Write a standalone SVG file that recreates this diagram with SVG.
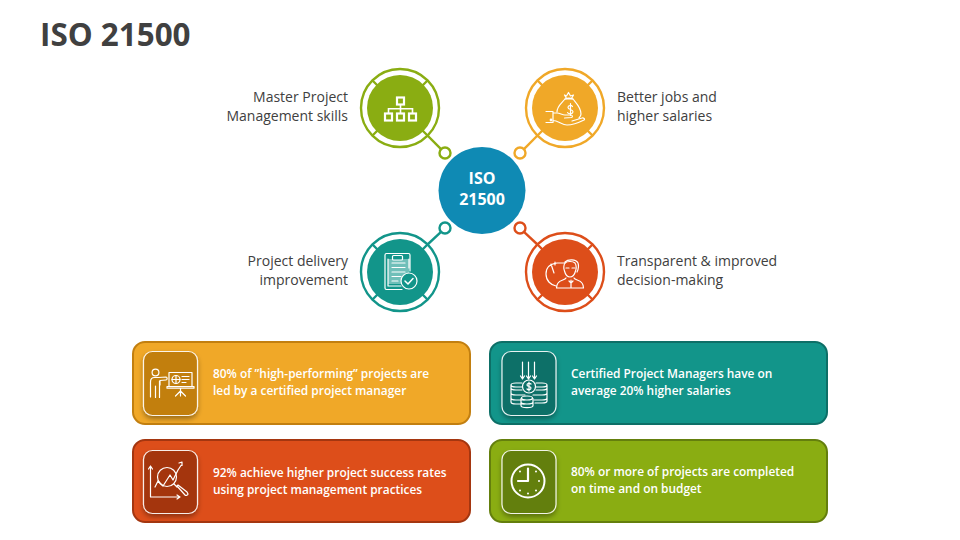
<svg xmlns="http://www.w3.org/2000/svg" width="960" height="540" viewBox="0 0 960 540">
<defs>
<style>
text{font-family:"Open Sans","Noto Sans","Liberation Sans",sans-serif}
.t{font-size:31.400px;font-weight:700;fill:#404040}
.l{font-size:14px;fill:#404040}
.c{font-size:16px;font-weight:700;fill:#fff}
.b{font-size:11.900px;font-weight:600;fill:#fff}
.i{fill:none;stroke:#fff;stroke-width:1.200;stroke-linecap:round;stroke-linejoin:round}
.i2{fill:none;stroke:#fff;stroke-width:2;stroke-linecap:round;stroke-linejoin:round}
.ib{stroke:#fff;stroke-opacity:.9;stroke-width:1.200;filter:url(#sh)}
</style>
<filter id="sh" x="-20%" y="-20%" width="140%" height="150%"><feDropShadow dx="0" dy="3" stdDeviation="2.500" flood-color="#000" flood-opacity=".35"/></filter>
</defs>
<rect width="960" height="540" fill="#fff"/>
<text class="t" x="40" y="46">ISO 21500</text>

<g id="connectors" fill="none" stroke-width="2.400">
<path d="M427 135L440.800 148.800" stroke="#8aad12"/>
<path d="M538 135L524.200 148.800" stroke="#f0a828"/>
<path d="M427 245L440.800 232.200" stroke="#12958a"/>
<path d="M538 245L524.200 232.200" stroke="#dd4e1a"/>
</g>

<g id="node-green">
<circle cx="400" cy="108" r="39" fill="#fff" stroke="#8aad12" stroke-width="2.400"/>
<path d="M372.500 80.500l9 9M427.500 80.500l-9 9M372.500 135.500l9-9M427.500 135.500l-9-9" stroke="#8aad12" stroke-width="2.400"/>
<circle cx="400" cy="108" r="33" fill="#8aad12"/>
<g fill="none" stroke="#fff" stroke-width="2.200">
<rect x="397" y="97.500" width="7" height="7"/>
<rect x="385" y="113.500" width="7" height="7"/>
<rect x="397" y="113.500" width="7" height="7"/>
<rect x="409" y="113.500" width="7" height="7"/>
<path d="M400.500 104.500V113M388.500 113V108.800H412.500V113" stroke-width="1.600"/>
</g>
<circle cx="445" cy="153" r="5.500" fill="#fff" stroke="#8aad12" stroke-width="2.400"/>
<text class="l" text-anchor="end" x="348" y="102">Master Project</text>
<text class="l" text-anchor="end" x="348" y="121">Management skills</text>
</g>

<g id="node-amber">
<circle cx="565" cy="108" r="39" fill="#fff" stroke="#f0a828" stroke-width="2.400"/>
<path d="M537.500 80.500l9 9M592.500 80.500l-9 9M537.500 135.500l9-9M592.500 135.500l-9-9" stroke="#f0a828" stroke-width="2.400"/>
<circle cx="565" cy="108" r="33" fill="#f0a828"/>
<g class="i" transform="translate(0 3)">
<path d="M546 108.500h7v11h-7M553 110h4c3 0 5 2 8 2h6c1.500 0 2 2 .5 2.500l-7 .5M553 117.500c5 0 9 4.500 14 4.500 5 0 13-3 17-5 1.500-1-.5-2.500-2-2l-10 3"/>
<path d="M557 109c0-6 5-9 8-13h8c3 4 8 8 8 15 0 2-1 3-2 4"/>
<path d="M565 96c2.500-1 5.500-1 8 0M564.500 92l2 3.500h5l2-3.500-3 1-2-3.500-2 3.500z"/>
<path d="M572.500 103.500c-1-1.500-4.500-1.500-4.500 1 0 2.500 5 1.500 5 4.200 0 2.500-4 2.500-5.500 1M570.500 100.500v12"/>
<circle cx="551" cy="117" r=".8"/>
</g>
<circle cx="520" cy="153" r="5.500" fill="#fff" stroke="#f0a828" stroke-width="2.400"/>
<text class="l" x="617" y="102">Better jobs and</text>
<text class="l" x="617" y="121">higher salaries</text>
</g>

<g id="node-teal">
<circle cx="400" cy="272" r="39" fill="#fff" stroke="#12958a" stroke-width="2.400"/>
<path d="M372.500 244.500l9 9M427.500 244.500l-9 9M372.500 299.500l9-9M427.500 299.500l-9-9" stroke="#12958a" stroke-width="2.400"/>
<circle cx="400" cy="272" r="33" fill="#12958a"/>
<rect x="388" y="259" width="21" height="25" fill="#fff" fill-opacity=".4"/>
<g class="i">
<path d="M402 289.500h-15.500a1.500 1.500 0 0 1-1.500-1.500v-33a1.500 1.500 0 0 1 1.500-1.500h22a1.500 1.500 0 0 1 1.500 1.500v16"/>
<rect x="392.500" y="255.500" width="10" height="4.500" rx="1" fill="#12958a"/>
<path d="M388 259v27h13M409 259v9M392 263h13M392 267.500h13M392 272h13M392 276.500h9M392 281h6"/>
<circle cx="409" cy="281" r="8" fill="#12958a"/>
<path d="M405 281l3 3 5-5.500" stroke-width="1.500"/>
</g>
<circle cx="445" cy="228" r="5.500" fill="#fff" stroke="#12958a" stroke-width="2.400"/>
<text class="l" text-anchor="end" x="348" y="266">Project delivery</text>
<text class="l" text-anchor="end" x="348" y="285">improvement</text>
</g>

<g id="node-orange">
<circle cx="565" cy="272" r="39" fill="#fff" stroke="#dd4e1a" stroke-width="2.400"/>
<path d="M537.500 244.500l9 9M592.500 244.500l-9 9M537.500 299.500l9-9M592.500 299.500l-9-9" stroke="#dd4e1a" stroke-width="2.400"/>
<circle cx="565" cy="272" r="33" fill="#dd4e1a"/>
<g class="i">
<path d="M557 263c-8 1-11 6-11 11 0 7 5 11 10 12M557 263h8M555 262v3M551 264l3 9"/>
<path d="M565 263c2-2 8-2 10 0 1.500 2 1.500 6 .500 8-1 4-3.500 6-5.500 6s-4.500-2-5.500-6c-1-2-1-6 .5-8z"/>
<path d="M565 262c3-3 11-3 13 1 1 3 0 7-1 9M566 268h3M572 268h3"/>
<path d="M566 278c-1 2-6 2-8 5-1.500 2-1.500 4-1.500 5h27c0-2 0-3-1.500-5-2-3-7-3-8-5M571 280v8M569 281l2 2 2-2"/>
</g>
<circle cx="520" cy="228" r="5.500" fill="#fff" stroke="#dd4e1a" stroke-width="2.400"/>
<text class="l" x="617" y="266">Transparent &amp; improved</text>
<text class="l" x="617" y="285">decision-making</text>
</g>

<g id="node-center">
<circle cx="482" cy="190.500" r="43.500" fill="#0f8ab4"/>
<text class="c" text-anchor="middle" x="482" y="184">ISO</text>
<text class="c" text-anchor="middle" x="482" y="205">21500</text>
</g>

<g id="card-1">
<rect x="133" y="342" width="337" height="82" rx="12" fill="#f0a828" stroke="#c27f10" stroke-width="2"/>
<rect class="ib" x="143.500" y="351.500" width="54" height="64" rx="9" fill="#c27f10"/>
<g class="i">
<circle cx="155.500" cy="372.500" r="3.400"/>
<path d="M150.500 397v-15c0-3 2-4.500 4-4.500h4l7.500-.5c1.500 0 1.500 3 0 3l-6 .5v4.500M155.500 386v11.500M159.500 381v16.500"/>
<rect x="169" y="372.500" width="23" height="14"/>
<path d="M167 386.500h27v1.700h-27zM180.500 388v8M180.500 391l-5 5M180.500 391l5 5"/>
<circle cx="176" cy="379.500" r="4"/>
<path d="M172 379.500h8M176 375.500v8M182 376.500h7M182 379.500h7M182 382.500h4"/>
</g>
<text class="b" x="213" y="378">80% of ”high-performing” projects are</text>
<text class="b" x="213" y="395">led by a certified project manager</text>
</g>

<g id="card-2">
<rect x="490" y="342" width="337" height="82" rx="12" fill="#12958a" stroke="#0d6f67" stroke-width="2"/>
<rect class="ib" x="502" y="351.500" width="54" height="64" rx="9" fill="#0d6f67"/>
<g class="i">
<path d="M522.500 362v16M528.500 362v16M534.500 362v16M520.500 376l2 3 2-3M526.500 376l2 3 2-3M532.500 376l2 3 2-3"/>
<circle cx="529" cy="386.500" r="6.500"/>
<path d="M531 384c-1-1-4-1-4 1 0 2 4 1 4 3 0 2-3 2-4 1M529 382v9"/>
<path d="M522 383h-6c-2.500 0-5 .7-5 2v17c0 1.300 2.500 2 5 2h8M511 388c0 1.300 2.500 2 5 2h6M511 393c0 1.300 2.500 2 5 2h9M511 398c0 1.300 2.500 2 5 2h8M511 385c0 1.300 2.500 2 5 2h6"/>
<path d="M536 383h6c2.500 0 5 .7 5 2v16c0 1.300-2.500 2-5 2h-7M547 388c0 1.300-2.500 2-5 2h-6M547 393c0 1.300-2.500 2-5 2h-9M547 398c0 1.300-2.500 2-5 2h-8M547 385c0 1.300-2.500 2-5 2h-6"/>
<ellipse cx="527" cy="398" rx="5.500" ry="2"/>
<path d="M521 398.500v7c0 1.300 2.700 2.200 6 2.200s6-.9 6-2.200v-7M521 402c0 1.300 2.700 2 6 2s6-.7 6-2"/>
</g>
<text class="b" x="571" y="378">Certified Project Managers have on</text>
<text class="b" x="571" y="395">average 20% higher salaries</text>
</g>

<g id="card-3">
<rect x="133" y="440" width="337" height="82" rx="12" fill="#dd4e1a" stroke="#a43610" stroke-width="2"/>
<rect class="ib" x="143.500" y="450.500" width="54" height="63" rx="9" fill="#a43610"/>
<g class="i">
<path d="M150.500 466v31h29M148.500 469l2-3 2 3M177 495l3 2-3 2"/>
<path d="M155 487l3-6 5 5 7-11 3 5 5-10 3-4.500M179 463l3-1 0 3.500"/>
<circle cx="167" cy="477" r="9.500"/>
<path d="M174 484l3 3M177 486l8 9c1 1 3 0 3-1l-1-2-9-7z"/>
</g>
<text class="b" x="213" y="477">92% achieve higher project success rates</text>
<text class="b" x="213" y="494">using project management practices</text>
</g>

<g id="card-4">
<rect x="490" y="440" width="337" height="82" rx="12" fill="#8aad12" stroke="#647f0d" stroke-width="2"/>
<rect class="ib" x="502" y="450.500" width="54" height="63" rx="9" fill="#647f0d"/>
<g class="i2">
<circle cx="528" cy="481" r="16.500"/>
<path d="M528 468.500V481H518" stroke-width="2.200"/>
<path d="M528 493.500v.1M520 471.500v.1M536 471.500v.1M520 490.500v.1M536 490.500v.1M539 481v.1"/>
</g>
<text class="b" x="571" y="476">80% or more of projects are completed</text>
<text class="b" x="571" y="493">on time and on budget</text>
</g>
</svg>
